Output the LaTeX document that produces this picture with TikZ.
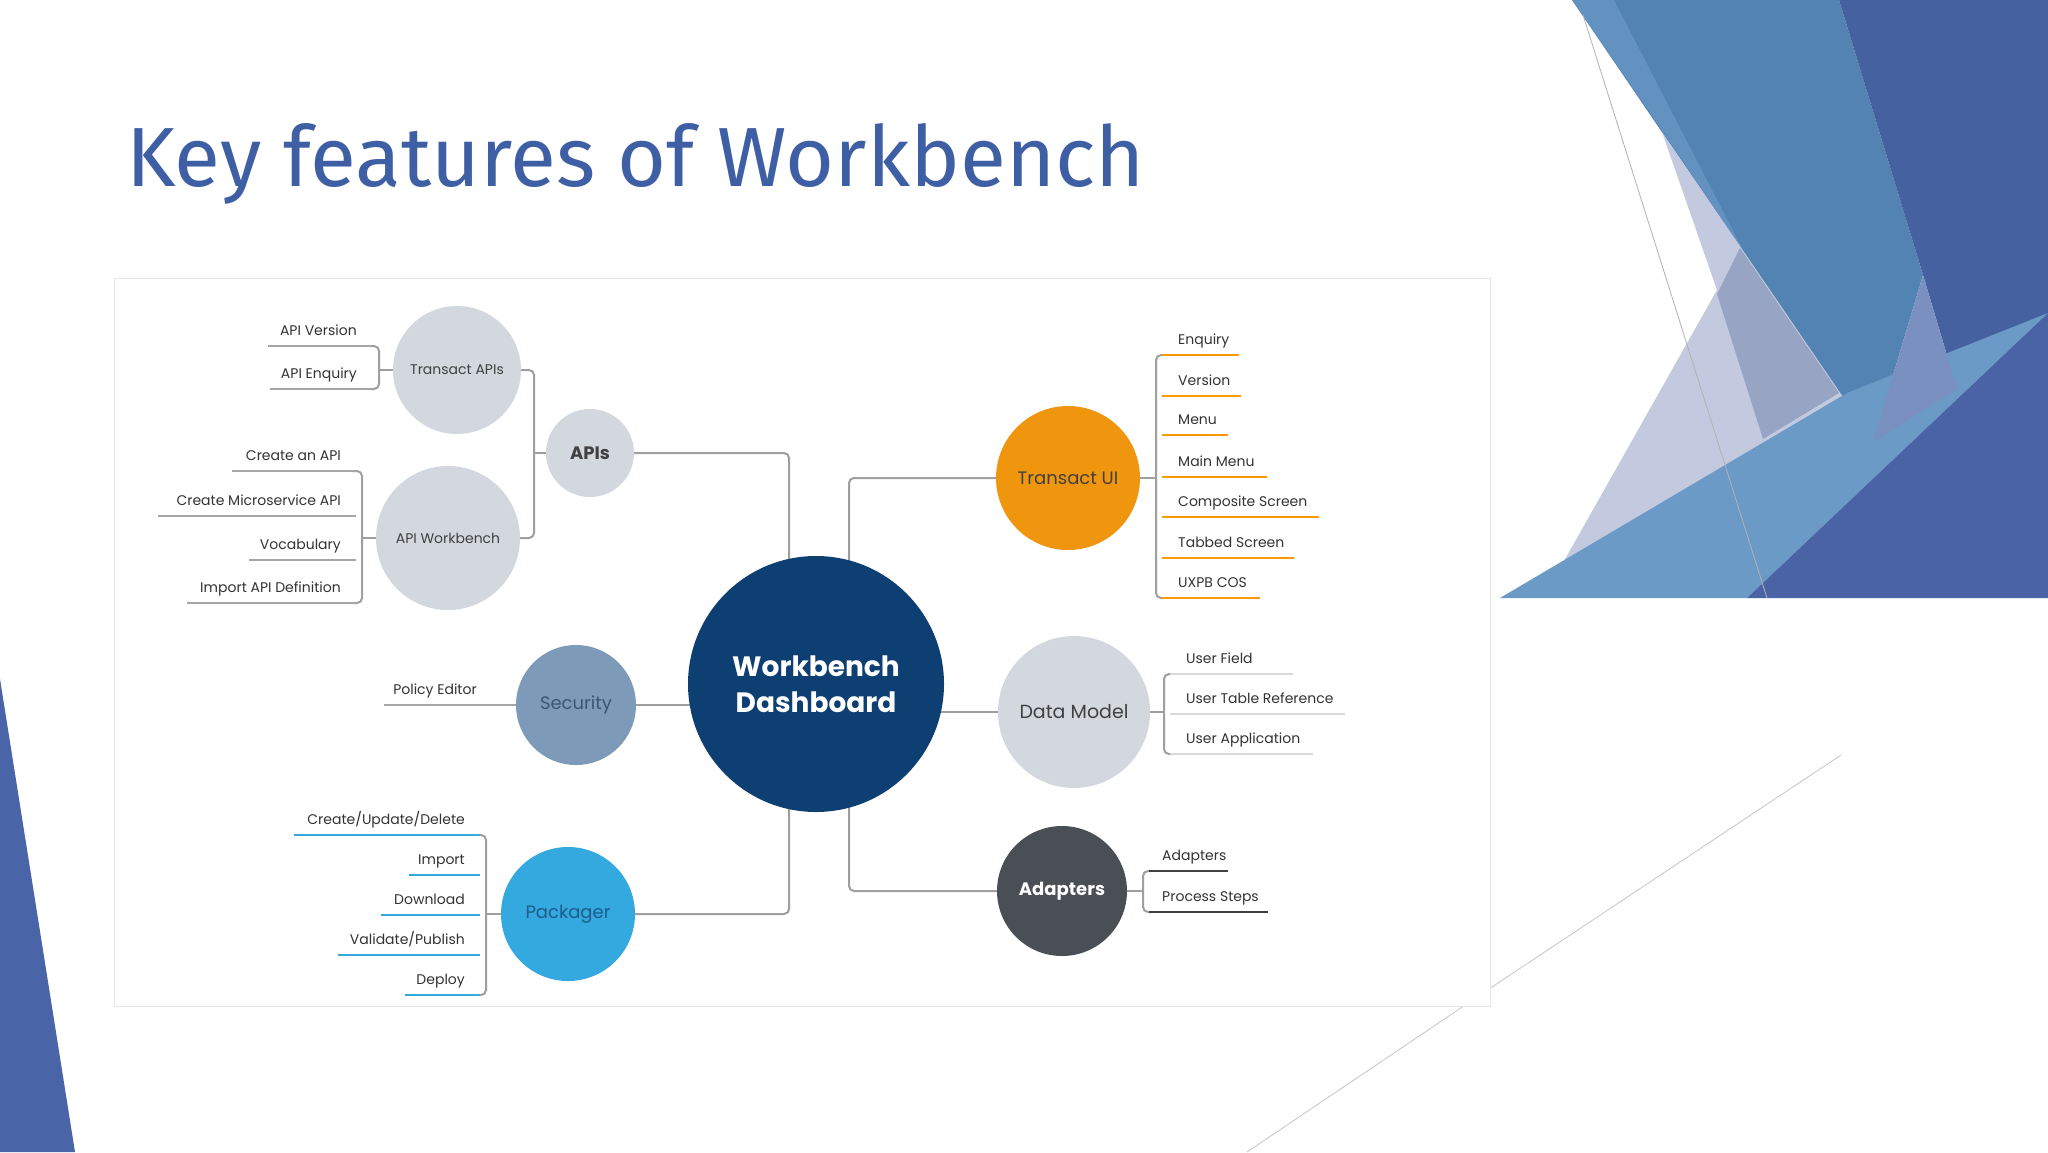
\documentclass[tikz,border=0pt]{standalone}
\usepackage{fontspec}
\setmainfont{Poppins}
\newfontfamily\titlefont{Fira Sans}
\definecolor{navy}{HTML}{0D3F73}
\definecolor{tui}{HTML}{F0950E}
\definecolor{lgc}{HTML}{D3D8DE}
\definecolor{adc}{HTML}{4A4F55}
\definecolor{pkc}{HTML}{33A9E0}
\definecolor{sec}{HTML}{7D9AB8}
\definecolor{ttl}{HTML}{3F5FA5}
\definecolor{pktx}{HTML}{1E5C8A}
\definecolor{setx}{HTML}{3F5670}
\definecolor{fa}{HTML}{5383B3}
\definecolor{fb}{HTML}{6391C0}
\definecolor{fc}{HTML}{4661A0}
\definecolor{fd}{HTML}{C3CADF}
\definecolor{fe}{HTML}{98A4C4}
\definecolor{ff}{HTML}{6B9AC6}
\definecolor{fg}{HTML}{7A90C0}
\definecolor{fh}{HTML}{4A63A5}
\definecolor{fi}{HTML}{4A64A8}
\begin{document}
\begin{tikzpicture}[x=1pt,y=-1pt,
  conn/.style={draw=gray!75, line width=2pt, rounded corners=5pt},
  lbl/.style={font=\fontsize{14}{16}\selectfont, text=black!80, inner sep=0pt},
  circ/.style={circle, inner sep=0pt, align=center},
  grayline/.style={draw=gray!70, line width=2pt},
  orline/.style={draw=orange!80!yellow, line width=2pt},
  ltline/.style={draw=gray!30, line width=2pt},
  dkline/.style={draw=black!75, line width=2pt},
  blline/.style={draw=pkc, line width=2pt}]
\useasboundingbox (0,0) rectangle (2048,1152);
\fill[white] (0,0) rectangle (2048,1152);
% background facets
\fill[fa] (1572,0) -- (1839,0) -- (1923,275) -- (1873,442) -- cycle;
\fill[fb] (1572,0) -- (1614,0) -- (1744,252) -- (1664,133) -- cycle;
\fill[fc] (1839,0) -- (2048,0) -- (2048,313) -- (1957,389) -- (1923,275) -- cycle;
\fill[fd] (1662,132) -- (1843,397) -- (1564,561) -- (1717,290) -- cycle;
\fill[fe] (1740,248) -- (1839,393) -- (1763,439) -- (1717,294) -- cycle;
\fill[ff] (1500,598) -- (1847,393) -- (2048,313) -- (1747,598) -- cycle;
\fill[fg] (1923,275) -- (1957,389) -- (1873,442) -- cycle;
\fill[fh] (1747,598) -- (2048,313) -- (2048,598) -- cycle;
\fill[fi] (0,679) -- (75,1152) -- (0,1152) -- cycle;
\draw[gray!60, line width=0.8pt] (1583,15) -- (1767,598);
\draw[gray!45, line width=0.8pt] (1247,1152) -- (1489,989) -- (1841,755);
% title
\node[anchor=base west, inner sep=0pt, text=ttl, font=\titlefont\fontsize{84}{90}\selectfont] (title) at (126,186) {Key features of Workbench};
% diagram box
\draw[gray!20, fill=white, line width=1pt] (114,278) rectangle (1490,1006);
% connectors main
\draw[conn] (616,453) -- (789,453) -- (789,600);
\draw[conn] (849,600) -- (849,478) -- (1000,478);
\draw[conn] (600,705) -- (760,705);
\draw[conn] (880,712) -- (1010,712);
\draw[conn] (789,750) -- (789,914) -- (600,914);
\draw[conn] (849,750) -- (849,891) -- (1000,891);
% APIs bus
\draw[conn] (510,370) -- (534,370) -- (534,538) -- (510,538);
\draw[conn] (560,453) -- (534,453);
% nodes
\node[circ, fill=navy, minimum size=256pt, text=white, font=\bfseries\fontsize{28}{36}\selectfont] (wb) at (816,684) {Workbench\\Dashboard};
\node[circ, fill=tui, minimum size=144pt, text=black!75, font=\fontsize{18}{20}\selectfont] (tu) at (1068,478) {Transact UI};
\node[circ, fill=lgc, minimum size=152pt, text=black!75, font=\fontsize{19}{20}\selectfont] (dm) at (1074,712) {Data Model};
\node[circ, fill=adc, minimum size=130pt, text=white, font=\bfseries\fontsize{18}{20}\selectfont] (ad) at (1062,891) {Adapters};
\node[circ, fill=pkc, minimum size=134pt, text=pktx, font=\fontsize{18}{20}\selectfont] (pk) at (568,914) {Packager};
\node[circ, fill=sec, minimum size=120pt, text=setx, font=\fontsize{18}{20}\selectfont] (se) at (576,705) {Security};
\node[circ, fill=lgc, minimum size=88pt, text=black!75, font=\bfseries\fontsize{18}{20}\selectfont] (ap) at (590,453) {APIs};
\node[circ, fill=lgc, minimum size=128pt, text=black!75, font=\fontsize{14}{16}\selectfont] (ta) at (457,370) {Transact APIs};
\node[circ, fill=lgc, minimum size=144pt, text=black!75, font=\fontsize{14}{16}\selectfont] (aw) at (448,538) {API Workbench};
% Transact APIs children
\draw[conn] (370,346) -- (379,346) -- (379,389) -- (370,389);
\draw[conn] (ta.west) -- (379,370);
\foreach \t/\y/\l [count=\i] in {API Version/346/268, API Enquiry/389/270}{
  \node[lbl, anchor=base east] (tc\i) at (357,\y-11) {\t};
  \draw[grayline] (\l,\y) -- (372,\y);}
% API Workbench children
\draw[conn] (352,471) -- (362,471) -- (362,603) -- (352,603);
\draw[conn] (aw.west) -- (362,538);
\foreach \t/\y/\l [count=\i] in {Create an API/471/232, Create Microservice API/516/158, Vocabulary/560/249, Import API Definition/603/187}{
  \node[lbl, anchor=base east] (wc\i) at (341,\y-11) {\t};
  \draw[grayline] (\l,\y) -- (356,\y);}
% Security child
\node[lbl, anchor=base] (pe) at (435,694) {Policy Editor};
\draw[grayline] (384,705) -- (se.west);
% Packager children
\draw[conn] (478,835) -- (486,835) -- (486,995) -- (478,995);
\draw[conn] (pk.west) -- (486,914);
\foreach \t/\y/\l [count=\i] in {{Create/Update/Delete}/835/294, {Import}/875/409, {Download}/915/381, {Validate/Publish}/955/338, {Deploy}/995/405}{
  \node[lbl, anchor=base east] (pc\i) at (465,\y-11) {\t};
  \draw[blline] (\l,\y) -- (480,\y);}
% Transact UI children
\draw[conn] (1164,355) -- (1156,355) -- (1156,598) -- (1164,598);
\draw[conn] (tu.east) -- (1156,478);
\foreach \t/\y/\r [count=\i] in {Enquiry/355/1239, Version/396/1241, Menu/435/1228, Main Menu/477/1267, Composite Screen/517/1319, Tabbed Screen/558/1294, UXPB COS/598/1260}{
  \node[lbl, anchor=base west] (uc\i) at (1178,\y-11) {\t};
  \draw[orline] (1162,\y) -- (\r,\y);}
% Data Model children
\draw[conn] (1172,674) -- (1164,674) -- (1164,754) -- (1172,754);
\draw[conn] (dm.east) -- (1164,712);
\foreach \t/\y/\r [count=\i] in {User Field/674/1293, User Table Reference/714/1345, User Application/754/1313}{
  \node[lbl, anchor=base west] (dc\i) at (1186,\y-11) {\t};
  \draw[ltline] (1170,\y) -- (\r,\y);}
% Adapters children
\draw[conn] (1151,871) -- (1143,871) -- (1143,912) -- (1151,912);
\draw[conn] (ad.east) -- (1143,891);
\foreach \t/\y/\r [count=\i] in {Adapters/871/1228, Process Steps/912/1268}{
  \node[lbl, anchor=base west] (ac\i) at (1162,\y-11) {\t};
  \draw[dkline] (1149,\y) -- (\r,\y);}
\end{tikzpicture}
\end{document}
